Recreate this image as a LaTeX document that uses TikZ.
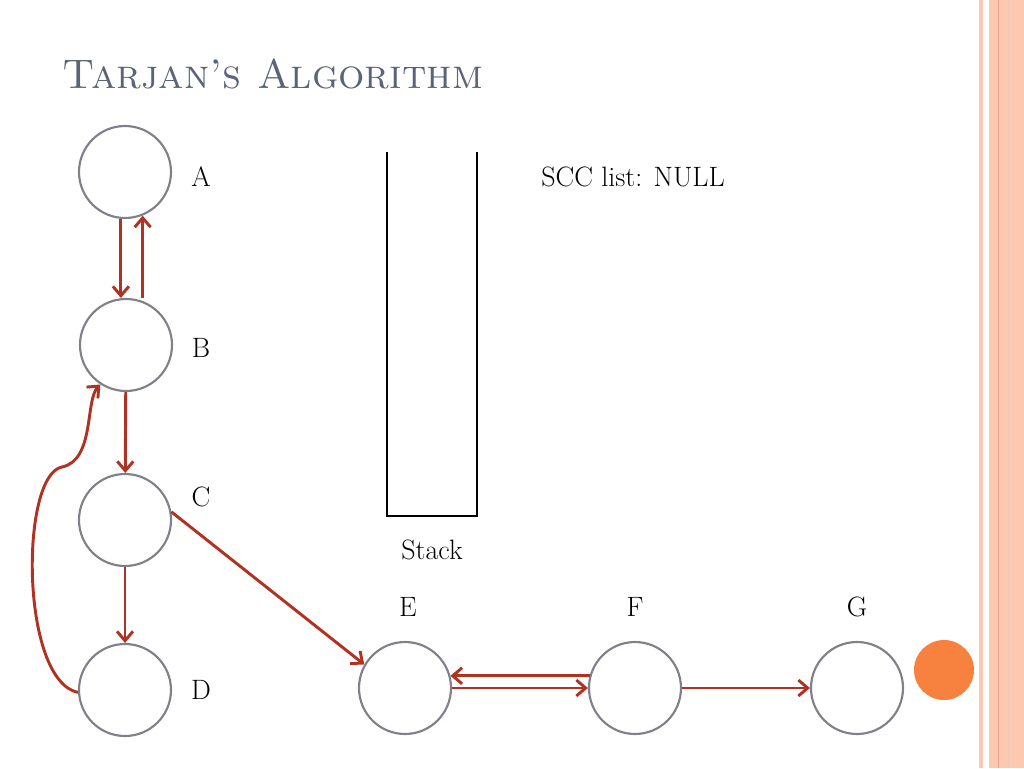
\documentclass[tikz,border=0pt]{standalone}
\usepackage{tikz}
\usetikzlibrary{arrows.meta}
\definecolor{edgered}{HTML}{B03222}
\definecolor{ringgray}{HTML}{80808A}
\definecolor{titlegray}{HTML}{5A6478}
\definecolor{peach}{HTML}{FCC8B2}
\definecolor{stripe}{HTML}{E8A488}
\definecolor{dotorange}{HTML}{F7813E}
\tikzset{
  vertex/.style={circle,draw=ringgray,line width=1.6pt,minimum size=69pt,inner sep=0pt},
  lbl/.style={font=\fontsize{21}{24}\selectfont},
  edge/.style={->,>={Straight Barb[length=7pt,width=12pt]},draw=edgered,line width=2.2pt},
}
\begin{document}
\begin{tikzpicture}[x=0.75pt,y=-0.75pt]
  \useasboundingbox (0,0) rectangle (1024,768);
  % border stripes
  \fill[peach] (979,0) rectangle (983,768);
  \fill[peach] (989,0) rectangle (1024,768);
  \draw[stripe,line width=0.6pt] (998,0) -- (998,768);
  \draw[stripe!60,line width=0.4pt] (1008,0) -- (1008,768);
  % title
  \node[anchor=base west,text=titlegray,inner sep=0pt,font=\fontsize{31}{36}\selectfont\scshape] (title) at (62,88) {Tarjan's Algorithm};
  % vertices
  \node[vertex] (A) at (125,172) {};
  \node[vertex] (B) at (126,345) {};
  \node[vertex] (C) at (125,520) {};
  \node[vertex] (D) at (125,690) {};
  \node[vertex] (E) at (405,688) {};
  \node[vertex] (F) at (635,688) {};
  \node[vertex] (G) at (857,688) {};
  \node[circle,fill=dotorange,minimum size=45pt,inner sep=0pt] (dot) at (944,670) {};
  % labels
  \node[lbl] (la) at (201,177) {A};
  \node[lbl] (lb) at (201,348) {B};
  \node[lbl] (lc) at (201,497) {C};
  \node[lbl] (ld) at (201,690) {D};
  \node[lbl] (le) at (408,607) {E};
  \node[lbl] (lf) at (635,607) {F};
  \node[lbl] (lg) at (857,607) {G};
  \node[lbl] (scc) at (633,177) {SCC list: NULL};
  \node[lbl] (stk) at (432,550) {Stack};
  % stack
  \draw[line width=2.2pt] (387,152) -- (387,516) -- (477,516) -- (477,152);
  % edges
  \draw[edge] (A.265) -- (A.265 |- B.north);
  \draw[edge] (B.north -| A.292) -- (A.292);
  \draw[edge] (B) -- (C);
  \draw[edge] (C) -- (D);
  \draw[edge] (D.183) .. controls (20,680) and (20,475) .. (62,467)
    .. controls (95,460) and (85,400) .. (B.237);
  \draw[edge] (C.10) -- (E.150);
  \draw[edge] (F.165) -- (E.15);
  \draw[edge] (E.0) -- (F.180);
  \draw[edge] (F) -- (G);
\end{tikzpicture}
\end{document}
